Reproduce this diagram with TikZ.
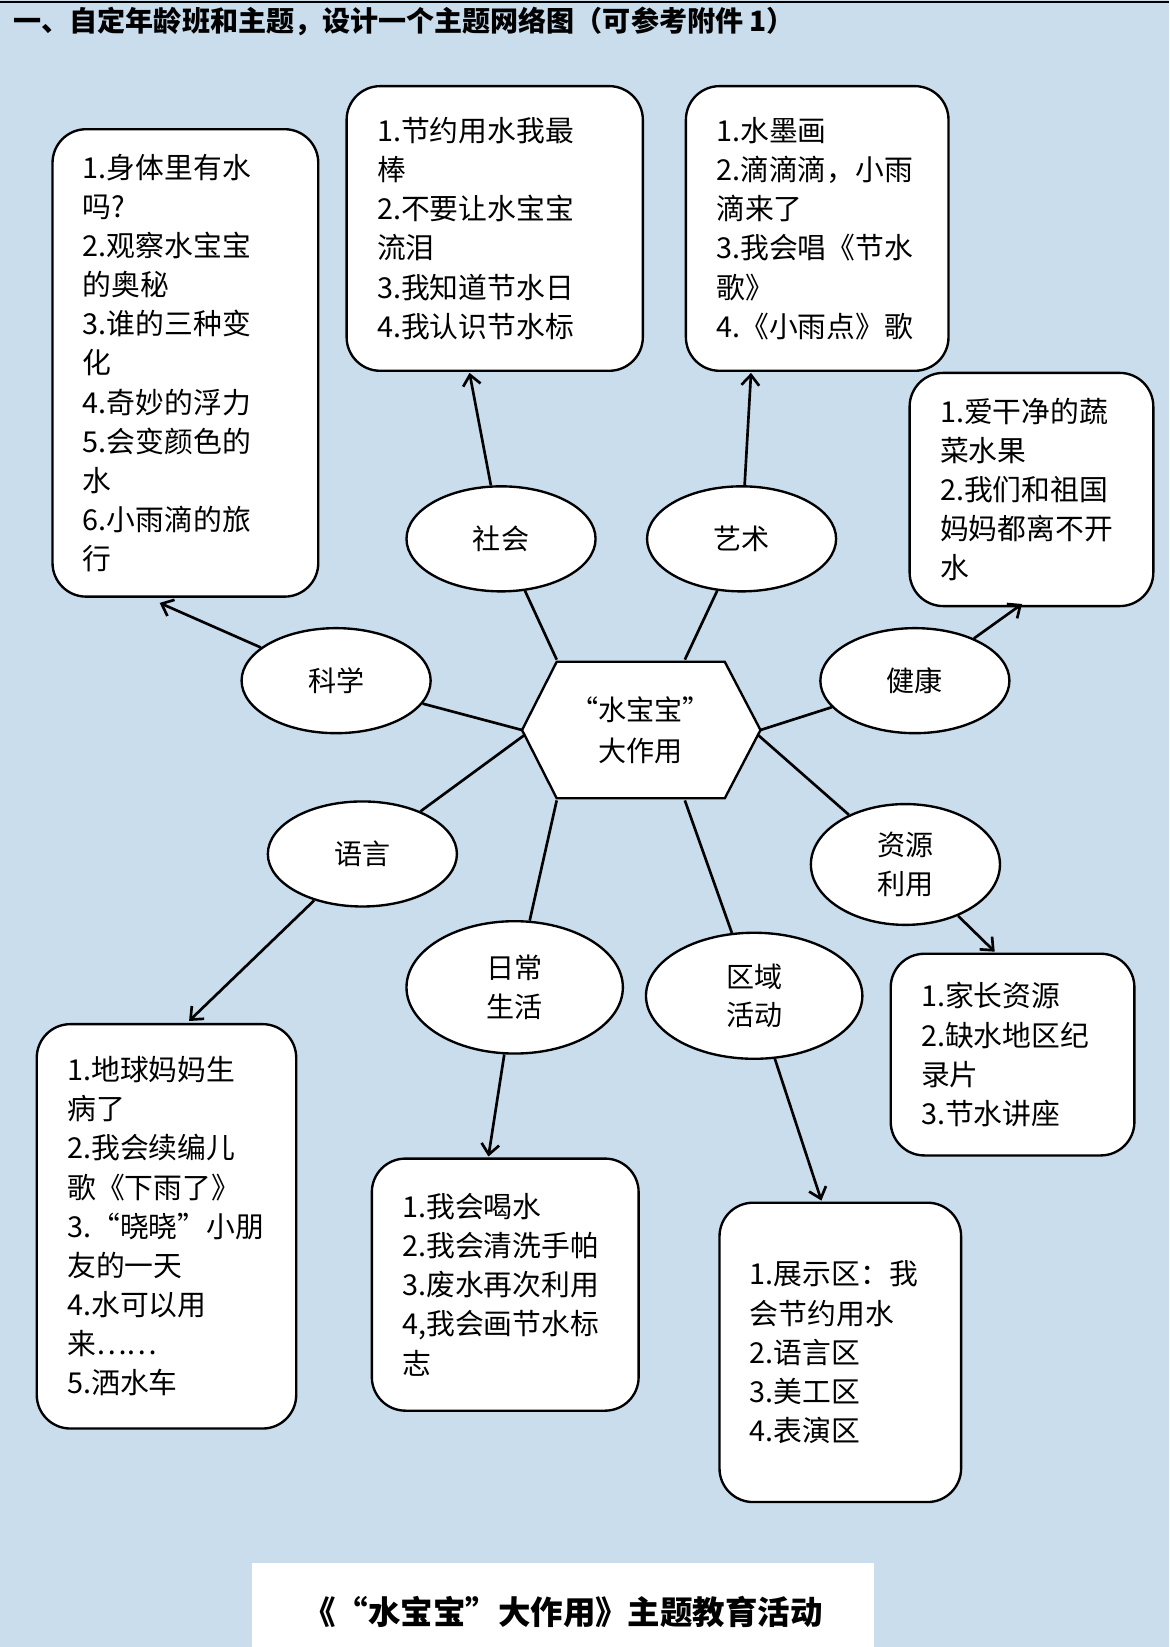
\documentclass[tikz,border=0pt]{standalone}
\usepackage{fontspec}
\setmainfont{Noto Sans CJK SC}
\usetikzlibrary{arrows.meta,shapes.geometric}
\definecolor{bgblue}{HTML}{C9DDED}
\tikzset{
    topic/.style={draw, line width=1.6pt, fill=white, ellipse, minimum width=180*0.025cm, minimum height=100*0.025cm, align=center, font=\fontsize{19}{26}\selectfont},
    listbox/.style={draw, line width=1.6pt, fill=white, rounded corners=0.8cm, align=left, inner sep=0pt, font=\fontsize{19.5}{26.5}\selectfont},
    link/.style={line width=1.8pt},
    toarrow/.style={line width=1.8pt, -{Straight Barb[length=7pt,width=12pt,line width=1.8pt]}}
}
\newcommand{\boxat}[6]{% name, x1, y1, x2, y2, text
    \node[listbox, minimum width={(#4-#2)*0.025cm}, minimum height={(#5-#3)*0.025cm}, text width={(#4-#2-58)*0.025cm}] (#1) at ({(#2+#4)/2},{(#3+#5)/2}) {#6};
}
\begin{document}
\begin{tikzpicture}[x=0.025cm, y=-0.025cm]
    \fill [bgblue] (0,0) rectangle (1113,1568);
    \useasboundingbox (0,0) rectangle (1113,1568);
    \draw [line width=1pt] (0,2) -- (1113,2);
    \node[anchor=west, font=\bfseries\fontsize{19}{24}\selectfont] (head) at (8,20) {一、自定年龄班和主题，设计一个主题网络图（可参考附件 1）};

    % boxes
    \boxat{sciBox}{50}{123}{303}{568}{1.身体里有水\\吗?\\2.观察水宝宝\\的奥秘\\3.谁的三种变\\化\\4.奇妙的浮力\\5.会变颜色的\\水\\6.小雨滴的旅\\行}
    \boxat{socBox}{330}{82}{612}{353}{1.节约用水我最\\棒\\2.不要让水宝宝\\流泪\\3.我知道节水日\\4.我认识节水标}
    \boxat{artBox}{653}{82}{903}{353}{1.水墨画\\2.滴滴滴，小雨\\滴来了\\3.我会唱《节水\\歌》\\4.《小雨点》歌}
    \boxat{hlthBox}{866}{355}{1098}{577}{1.爱干净的蔬\\菜水果\\2.我们和祖国\\妈妈都离不开\\水}
    \boxat{langBox}{35}{975}{282}{1360}{1.地球妈妈生\\病了\\2.我会续编儿\\歌《下雨了》\\3.“晓晓”小朋\\友的一天\\4.水可以用\\来……\\5.洒水车}
    \boxat{lifeBox}{354}{1103}{608}{1343}{1.我会喝水\\2.我会清洗手帕\\3.废水再次利用\\4,我会画节水标\\志}
    \boxat{areaBox}{685}{1145}{915}{1430}{1.展示区：我\\会节约用水\\2.语言区\\3.美工区\\4.表演区}
    \boxat{resBox}{848}{908}{1080}{1100}{1.家长资源\\2.缺水地区纪\\录片\\3.节水讲座}

    % centre hexagon
    \coordinate (hW) at (497,695);
    \coordinate (hNW) at (530,630);
    \coordinate (hNE) at (690,630);
    \coordinate (hE) at (724,695);
    \coordinate (hSE) at (690,760);
    \coordinate (hSW) at (530,760);
    \draw [line width=1.6pt, fill=white] (hW) -- (hNW) -- (hNE) -- (hE) -- (hSE) -- (hSW) -- cycle;
    \node[align=center, font=\fontsize{19}{28}\selectfont] (hub) at (610,695) {“水宝宝”\\大作用};

    % topics
    \node[topic] (soc) at (477,513) {社会};
    \node[topic] (art) at (706,513) {艺术};
    \node[topic] (sci) at (320,648) {科学};
    \node[topic] (hlth) at (871,648) {健康};
    \node[topic] (lang) at (345,813) {语言};
    \node[topic, minimum height=115*0.025cm] (res) at (862,823) {资源\\利用};
    \node[topic, minimum width=206*0.025cm, minimum height=126*0.025cm] (life) at (490,940) {日常\\生活};
    \node[topic, minimum width=206*0.025cm, minimum height=120*0.025cm] (area) at (718,948) {区域\\活动};

    % hub links
    \draw [link] (530,628) -- (soc);
    \draw [link] (652,628) -- (art);
    \draw [link] (hW) -- (sci);
    \draw [link] (hE) -- (hlth);
    \draw [link] (499,700) -- (lang);
    \draw [link] (722,700) -- (res);
    \draw [link] (530,762) -- (life);
    \draw [link] (652,762) -- (area);

    % arrows to boxes
    \coordinate (sciEnd) at (152,574);
    \coordinate (socEnd) at (447,355);
    \coordinate (artEnd) at (715,355);
    \coordinate (hlthEnd) at (973,575);
    \coordinate (langEnd) at (180,972);
    \coordinate (resEnd) at (947,906);
    \coordinate (lifeEnd) at (465,1101);
    \coordinate (areaEnd) at (782,1143);
    \foreach \t in {sci,soc,art,hlth,lang,res,life,area} {
        \draw [toarrow] (\t) -- (\t End);
    }

    % title
    \fill [white] (240,1488) rectangle (832,1568);
    \node[font=\bfseries\fontsize{22}{26}\selectfont] (title) at (536,1535) {《“水宝宝”大作用》主题教育活动};
\end{tikzpicture}
\end{document}
